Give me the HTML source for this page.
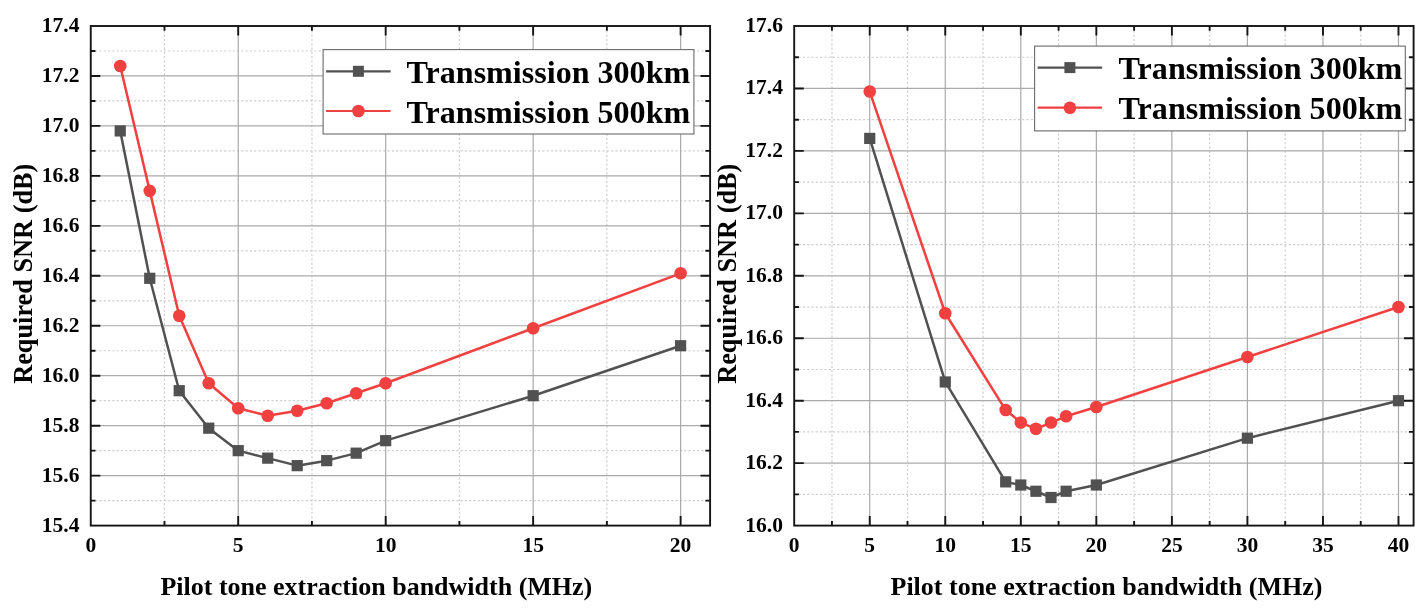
<!DOCTYPE html>
<html><head><meta charset="utf-8"><title>Required SNR vs pilot tone extraction bandwidth</title>
<style>
html,body{margin:0;padding:0;background:#fff}
body{width:1428px;height:612px;overflow:hidden}
svg{display:block}
text{font-family:"Liberation Serif","Times New Roman",serif;font-weight:bold;fill:#000}
.tk{font-size:21.5px}
.ti{font-size:26px}
.ty{font-size:26.3px}
.lg{font-size:32.1px}
</style></head><body>
<svg width="1428" height="612" viewBox="0 0 1428 612">
<rect width="1428" height="612" fill="#fff"/>
<g id="left-chart">
<line x1="164.48" y1="26.0" x2="164.48" y2="525.6" stroke="#cecece" stroke-width="1.2" stroke-dasharray="2.2 2.1"/>
<line x1="311.95" y1="26.0" x2="311.95" y2="525.6" stroke="#cecece" stroke-width="1.2" stroke-dasharray="2.2 2.1"/>
<line x1="459.41" y1="26.0" x2="459.41" y2="525.6" stroke="#cecece" stroke-width="1.2" stroke-dasharray="2.2 2.1"/>
<line x1="606.88" y1="26.0" x2="606.88" y2="525.6" stroke="#cecece" stroke-width="1.2" stroke-dasharray="2.2 2.1"/>
<line x1="90.75" y1="500.62" x2="710.1" y2="500.62" stroke="#cecece" stroke-width="1.2" stroke-dasharray="2.2 2.1"/>
<line x1="90.75" y1="450.66" x2="710.1" y2="450.66" stroke="#cecece" stroke-width="1.2" stroke-dasharray="2.2 2.1"/>
<line x1="90.75" y1="400.70" x2="710.1" y2="400.70" stroke="#cecece" stroke-width="1.2" stroke-dasharray="2.2 2.1"/>
<line x1="90.75" y1="350.74" x2="710.1" y2="350.74" stroke="#cecece" stroke-width="1.2" stroke-dasharray="2.2 2.1"/>
<line x1="90.75" y1="300.78" x2="710.1" y2="300.78" stroke="#cecece" stroke-width="1.2" stroke-dasharray="2.2 2.1"/>
<line x1="90.75" y1="250.82" x2="710.1" y2="250.82" stroke="#cecece" stroke-width="1.2" stroke-dasharray="2.2 2.1"/>
<line x1="90.75" y1="200.86" x2="710.1" y2="200.86" stroke="#cecece" stroke-width="1.2" stroke-dasharray="2.2 2.1"/>
<line x1="90.75" y1="150.90" x2="710.1" y2="150.90" stroke="#cecece" stroke-width="1.2" stroke-dasharray="2.2 2.1"/>
<line x1="90.75" y1="100.94" x2="710.1" y2="100.94" stroke="#cecece" stroke-width="1.2" stroke-dasharray="2.2 2.1"/>
<line x1="90.75" y1="50.98" x2="710.1" y2="50.98" stroke="#cecece" stroke-width="1.2" stroke-dasharray="2.2 2.1"/>
<line x1="238.21" y1="26.0" x2="238.21" y2="525.6" stroke="#aaaaaa" stroke-width="1.2"/>
<line x1="385.68" y1="26.0" x2="385.68" y2="525.6" stroke="#aaaaaa" stroke-width="1.2"/>
<line x1="533.14" y1="26.0" x2="533.14" y2="525.6" stroke="#aaaaaa" stroke-width="1.2"/>
<line x1="680.61" y1="26.0" x2="680.61" y2="525.6" stroke="#aaaaaa" stroke-width="1.2"/>
<line x1="90.75" y1="475.64" x2="710.1" y2="475.64" stroke="#aaaaaa" stroke-width="1.2"/>
<line x1="90.75" y1="425.68" x2="710.1" y2="425.68" stroke="#aaaaaa" stroke-width="1.2"/>
<line x1="90.75" y1="375.72" x2="710.1" y2="375.72" stroke="#aaaaaa" stroke-width="1.2"/>
<line x1="90.75" y1="325.76" x2="710.1" y2="325.76" stroke="#aaaaaa" stroke-width="1.2"/>
<line x1="90.75" y1="275.80" x2="710.1" y2="275.80" stroke="#aaaaaa" stroke-width="1.2"/>
<line x1="90.75" y1="225.84" x2="710.1" y2="225.84" stroke="#aaaaaa" stroke-width="1.2"/>
<line x1="90.75" y1="175.88" x2="710.1" y2="175.88" stroke="#aaaaaa" stroke-width="1.2"/>
<line x1="90.75" y1="125.92" x2="710.1" y2="125.92" stroke="#aaaaaa" stroke-width="1.2"/>
<line x1="90.75" y1="75.96" x2="710.1" y2="75.96" stroke="#aaaaaa" stroke-width="1.2"/>
<path d="M238.21 525.6v-9.6M238.21 26.0v9.6M385.68 525.6v-9.6M385.68 26.0v9.6M533.14 525.6v-9.6M533.14 26.0v9.6M680.61 525.6v-9.6M680.61 26.0v9.6M164.48 525.6v-4.7M164.48 26.0v4.7M311.95 525.6v-4.7M311.95 26.0v4.7M459.41 525.6v-4.7M459.41 26.0v4.7M606.88 525.6v-4.7M606.88 26.0v4.7M90.75 475.64h9.6M710.1 475.64h-9.6M90.75 425.68h9.6M710.1 425.68h-9.6M90.75 375.72h9.6M710.1 375.72h-9.6M90.75 325.76h9.6M710.1 325.76h-9.6M90.75 275.80h9.6M710.1 275.80h-9.6M90.75 225.84h9.6M710.1 225.84h-9.6M90.75 175.88h9.6M710.1 175.88h-9.6M90.75 125.92h9.6M710.1 125.92h-9.6M90.75 75.96h9.6M710.1 75.96h-9.6M90.75 500.62h4.7M710.1 500.62h-4.7M90.75 450.66h4.7M710.1 450.66h-4.7M90.75 400.70h4.7M710.1 400.70h-4.7M90.75 350.74h4.7M710.1 350.74h-4.7M90.75 300.78h4.7M710.1 300.78h-4.7M90.75 250.82h4.7M710.1 250.82h-4.7M90.75 200.86h4.7M710.1 200.86h-4.7M90.75 150.90h4.7M710.1 150.90h-4.7M90.75 100.94h4.7M710.1 100.94h-4.7M90.75 50.98h4.7M710.1 50.98h-4.7" stroke="#151515" stroke-width="1.9" fill="none"/>
<polyline points="120.24,130.92 149.74,278.30 179.23,390.71 208.72,428.18 238.21,450.66 267.71,458.15 297.20,465.65 326.69,460.65 356.19,453.16 385.68,440.67 533.14,395.70 680.61,345.74" fill="none" stroke="#515151" stroke-width="2.5" stroke-linejoin="round"/>
<rect x="114.64" y="125.32" width="11.2" height="11.2" fill="#515151"/>
<rect x="144.14" y="272.70" width="11.2" height="11.2" fill="#515151"/>
<rect x="173.63" y="385.11" width="11.2" height="11.2" fill="#515151"/>
<rect x="203.12" y="422.58" width="11.2" height="11.2" fill="#515151"/>
<rect x="232.61" y="445.06" width="11.2" height="11.2" fill="#515151"/>
<rect x="262.11" y="452.55" width="11.2" height="11.2" fill="#515151"/>
<rect x="291.60" y="460.05" width="11.2" height="11.2" fill="#515151"/>
<rect x="321.09" y="455.05" width="11.2" height="11.2" fill="#515151"/>
<rect x="350.59" y="447.56" width="11.2" height="11.2" fill="#515151"/>
<rect x="380.08" y="435.07" width="11.2" height="11.2" fill="#515151"/>
<rect x="527.54" y="390.10" width="11.2" height="11.2" fill="#515151"/>
<rect x="675.01" y="340.14" width="11.2" height="11.2" fill="#515151"/>
<polyline points="120.24,65.97 149.74,190.87 179.23,315.77 208.72,383.21 238.21,408.19 267.71,415.69 297.20,410.69 326.69,403.20 356.19,393.21 385.68,383.21 533.14,328.26 680.61,273.30" fill="none" stroke="#F14040" stroke-width="2.5" stroke-linejoin="round"/>
<circle cx="120.24" cy="65.97" r="6.3" fill="#F14040"/>
<circle cx="149.74" cy="190.87" r="6.3" fill="#F14040"/>
<circle cx="179.23" cy="315.77" r="6.3" fill="#F14040"/>
<circle cx="208.72" cy="383.21" r="6.3" fill="#F14040"/>
<circle cx="238.21" cy="408.19" r="6.3" fill="#F14040"/>
<circle cx="267.71" cy="415.69" r="6.3" fill="#F14040"/>
<circle cx="297.20" cy="410.69" r="6.3" fill="#F14040"/>
<circle cx="326.69" cy="403.20" r="6.3" fill="#F14040"/>
<circle cx="356.19" cy="393.21" r="6.3" fill="#F14040"/>
<circle cx="385.68" cy="383.21" r="6.3" fill="#F14040"/>
<circle cx="533.14" cy="328.26" r="6.3" fill="#F14040"/>
<circle cx="680.61" cy="273.30" r="6.3" fill="#F14040"/>
<rect x="90.75" y="26.0" width="619.35" height="499.6" fill="none" stroke="#151515" stroke-width="1.9"/>
<rect x="323.1" y="49.6" width="370.79999999999995" height="84.4" fill="#fff" stroke="#6a6a6a" stroke-width="1.1"/>
<line x1="326.1" y1="71.3" x2="390.6" y2="71.3" stroke="#515151" stroke-width="2.2"/>
<rect x="352.90000000000003" y="65.8" width="11" height="11" fill="#515151"/>
<line x1="326.1" y1="111.0" x2="390.6" y2="111.0" stroke="#F14040" stroke-width="2.2"/>
<circle cx="358.40000000000003" cy="111.0" r="6.3" fill="#F14040"/>
<text class="lg" x="406.5" y="83.1">Transmission 300km</text>
<text class="lg" x="406.5" y="122.6">Transmission 500km</text>
<text class="tk" text-anchor="end" x="79.45" y="531.90">15.4</text>
<text class="tk" text-anchor="end" x="79.45" y="481.86">15.6</text>
<text class="tk" text-anchor="end" x="79.45" y="431.82">15.8</text>
<text class="tk" text-anchor="end" x="79.45" y="381.78">16.0</text>
<text class="tk" text-anchor="end" x="79.45" y="331.74">16.2</text>
<text class="tk" text-anchor="end" x="79.45" y="281.70">16.4</text>
<text class="tk" text-anchor="end" x="79.45" y="231.66">16.6</text>
<text class="tk" text-anchor="end" x="79.45" y="181.62">16.8</text>
<text class="tk" text-anchor="end" x="79.45" y="131.58">17.0</text>
<text class="tk" text-anchor="end" x="79.45" y="81.54">17.2</text>
<text class="tk" text-anchor="end" x="79.45" y="31.50">17.4</text>
<text class="tk" text-anchor="middle" x="90.75" y="552.20">0</text>
<text class="tk" text-anchor="middle" x="238.21" y="552.20">5</text>
<text class="tk" text-anchor="middle" x="385.68" y="552.20">10</text>
<text class="tk" text-anchor="middle" x="533.14" y="552.20">15</text>
<text class="tk" text-anchor="middle" x="680.61" y="552.20">20</text>
<text class="ti" text-anchor="middle" x="376.35" y="594.8">Pilot tone extraction bandwidth (MHz)</text>
<text class="ty" text-anchor="middle" transform="translate(32.3 273.75) rotate(-90)">Required SNR (dB)</text>
</g>
<g id="right-chart">
<line x1="831.97" y1="26.0" x2="831.97" y2="525.6" stroke="#cecece" stroke-width="1.2" stroke-dasharray="2.2 2.1"/>
<line x1="907.50" y1="26.0" x2="907.50" y2="525.6" stroke="#cecece" stroke-width="1.2" stroke-dasharray="2.2 2.1"/>
<line x1="983.04" y1="26.0" x2="983.04" y2="525.6" stroke="#cecece" stroke-width="1.2" stroke-dasharray="2.2 2.1"/>
<line x1="1058.58" y1="26.0" x2="1058.58" y2="525.6" stroke="#cecece" stroke-width="1.2" stroke-dasharray="2.2 2.1"/>
<line x1="1134.11" y1="26.0" x2="1134.11" y2="525.6" stroke="#cecece" stroke-width="1.2" stroke-dasharray="2.2 2.1"/>
<line x1="1209.65" y1="26.0" x2="1209.65" y2="525.6" stroke="#cecece" stroke-width="1.2" stroke-dasharray="2.2 2.1"/>
<line x1="1285.19" y1="26.0" x2="1285.19" y2="525.6" stroke="#cecece" stroke-width="1.2" stroke-dasharray="2.2 2.1"/>
<line x1="1360.72" y1="26.0" x2="1360.72" y2="525.6" stroke="#cecece" stroke-width="1.2" stroke-dasharray="2.2 2.1"/>
<line x1="794.2" y1="494.37" x2="1413.6" y2="494.37" stroke="#cecece" stroke-width="1.2" stroke-dasharray="2.2 2.1"/>
<line x1="794.2" y1="431.92" x2="1413.6" y2="431.92" stroke="#cecece" stroke-width="1.2" stroke-dasharray="2.2 2.1"/>
<line x1="794.2" y1="369.48" x2="1413.6" y2="369.48" stroke="#cecece" stroke-width="1.2" stroke-dasharray="2.2 2.1"/>
<line x1="794.2" y1="307.03" x2="1413.6" y2="307.03" stroke="#cecece" stroke-width="1.2" stroke-dasharray="2.2 2.1"/>
<line x1="794.2" y1="244.58" x2="1413.6" y2="244.58" stroke="#cecece" stroke-width="1.2" stroke-dasharray="2.2 2.1"/>
<line x1="794.2" y1="182.12" x2="1413.6" y2="182.12" stroke="#cecece" stroke-width="1.2" stroke-dasharray="2.2 2.1"/>
<line x1="794.2" y1="119.68" x2="1413.6" y2="119.68" stroke="#cecece" stroke-width="1.2" stroke-dasharray="2.2 2.1"/>
<line x1="794.2" y1="57.23" x2="1413.6" y2="57.23" stroke="#cecece" stroke-width="1.2" stroke-dasharray="2.2 2.1"/>
<line x1="869.74" y1="26.0" x2="869.74" y2="525.6" stroke="#aaaaaa" stroke-width="1.2"/>
<line x1="945.27" y1="26.0" x2="945.27" y2="525.6" stroke="#aaaaaa" stroke-width="1.2"/>
<line x1="1020.81" y1="26.0" x2="1020.81" y2="525.6" stroke="#aaaaaa" stroke-width="1.2"/>
<line x1="1096.35" y1="26.0" x2="1096.35" y2="525.6" stroke="#aaaaaa" stroke-width="1.2"/>
<line x1="1171.88" y1="26.0" x2="1171.88" y2="525.6" stroke="#aaaaaa" stroke-width="1.2"/>
<line x1="1247.42" y1="26.0" x2="1247.42" y2="525.6" stroke="#aaaaaa" stroke-width="1.2"/>
<line x1="1322.96" y1="26.0" x2="1322.96" y2="525.6" stroke="#aaaaaa" stroke-width="1.2"/>
<line x1="1398.49" y1="26.0" x2="1398.49" y2="525.6" stroke="#aaaaaa" stroke-width="1.2"/>
<line x1="794.2" y1="463.15" x2="1413.6" y2="463.15" stroke="#aaaaaa" stroke-width="1.2"/>
<line x1="794.2" y1="400.70" x2="1413.6" y2="400.70" stroke="#aaaaaa" stroke-width="1.2"/>
<line x1="794.2" y1="338.25" x2="1413.6" y2="338.25" stroke="#aaaaaa" stroke-width="1.2"/>
<line x1="794.2" y1="275.80" x2="1413.6" y2="275.80" stroke="#aaaaaa" stroke-width="1.2"/>
<line x1="794.2" y1="213.35" x2="1413.6" y2="213.35" stroke="#aaaaaa" stroke-width="1.2"/>
<line x1="794.2" y1="150.90" x2="1413.6" y2="150.90" stroke="#aaaaaa" stroke-width="1.2"/>
<line x1="794.2" y1="88.45" x2="1413.6" y2="88.45" stroke="#aaaaaa" stroke-width="1.2"/>
<path d="M869.74 525.6v-9.6M869.74 26.0v9.6M945.27 525.6v-9.6M945.27 26.0v9.6M1020.81 525.6v-9.6M1020.81 26.0v9.6M1096.35 525.6v-9.6M1096.35 26.0v9.6M1171.88 525.6v-9.6M1171.88 26.0v9.6M1247.42 525.6v-9.6M1247.42 26.0v9.6M1322.96 525.6v-9.6M1322.96 26.0v9.6M1398.49 525.6v-9.6M1398.49 26.0v9.6M831.97 525.6v-4.7M831.97 26.0v4.7M907.50 525.6v-4.7M907.50 26.0v4.7M983.04 525.6v-4.7M983.04 26.0v4.7M1058.58 525.6v-4.7M1058.58 26.0v4.7M1134.11 525.6v-4.7M1134.11 26.0v4.7M1209.65 525.6v-4.7M1209.65 26.0v4.7M1285.19 525.6v-4.7M1285.19 26.0v4.7M1360.72 525.6v-4.7M1360.72 26.0v4.7M794.2 463.15h9.6M1413.6 463.15h-9.6M794.2 400.70h9.6M1413.6 400.70h-9.6M794.2 338.25h9.6M1413.6 338.25h-9.6M794.2 275.80h9.6M1413.6 275.80h-9.6M794.2 213.35h9.6M1413.6 213.35h-9.6M794.2 150.90h9.6M1413.6 150.90h-9.6M794.2 88.45h9.6M1413.6 88.45h-9.6M794.2 494.37h4.7M1413.6 494.37h-4.7M794.2 431.92h4.7M1413.6 431.92h-4.7M794.2 369.48h4.7M1413.6 369.48h-4.7M794.2 307.03h4.7M1413.6 307.03h-4.7M794.2 244.58h4.7M1413.6 244.58h-4.7M794.2 182.12h4.7M1413.6 182.12h-4.7M794.2 119.68h4.7M1413.6 119.68h-4.7M794.2 57.23h4.7M1413.6 57.23h-4.7" stroke="#151515" stroke-width="1.9" fill="none"/>
<polyline points="869.74,138.41 945.27,381.96 1005.70,481.88 1020.81,485.01 1035.92,491.25 1051.02,497.50 1066.13,491.25 1096.35,485.01 1247.42,438.17 1398.49,400.70" fill="none" stroke="#515151" stroke-width="2.5" stroke-linejoin="round"/>
<rect x="864.14" y="132.81" width="11.2" height="11.2" fill="#515151"/>
<rect x="939.67" y="376.36" width="11.2" height="11.2" fill="#515151"/>
<rect x="1000.10" y="476.28" width="11.2" height="11.2" fill="#515151"/>
<rect x="1015.21" y="479.41" width="11.2" height="11.2" fill="#515151"/>
<rect x="1030.32" y="485.65" width="11.2" height="11.2" fill="#515151"/>
<rect x="1045.42" y="491.90" width="11.2" height="11.2" fill="#515151"/>
<rect x="1060.53" y="485.65" width="11.2" height="11.2" fill="#515151"/>
<rect x="1090.75" y="479.41" width="11.2" height="11.2" fill="#515151"/>
<rect x="1241.82" y="432.57" width="11.2" height="11.2" fill="#515151"/>
<rect x="1392.89" y="395.10" width="11.2" height="11.2" fill="#515151"/>
<polyline points="869.74,91.57 945.27,313.27 1005.70,410.07 1020.81,422.56 1035.92,428.80 1051.02,422.56 1066.13,416.31 1096.35,406.95 1247.42,356.99 1398.49,307.03" fill="none" stroke="#F14040" stroke-width="2.5" stroke-linejoin="round"/>
<circle cx="869.74" cy="91.57" r="6.3" fill="#F14040"/>
<circle cx="945.27" cy="313.27" r="6.3" fill="#F14040"/>
<circle cx="1005.70" cy="410.07" r="6.3" fill="#F14040"/>
<circle cx="1020.81" cy="422.56" r="6.3" fill="#F14040"/>
<circle cx="1035.92" cy="428.80" r="6.3" fill="#F14040"/>
<circle cx="1051.02" cy="422.56" r="6.3" fill="#F14040"/>
<circle cx="1066.13" cy="416.31" r="6.3" fill="#F14040"/>
<circle cx="1096.35" cy="406.95" r="6.3" fill="#F14040"/>
<circle cx="1247.42" cy="356.99" r="6.3" fill="#F14040"/>
<circle cx="1398.49" cy="307.03" r="6.3" fill="#F14040"/>
<rect x="794.2" y="26.0" width="619.3999999999999" height="499.6" fill="none" stroke="#151515" stroke-width="1.9"/>
<rect x="1034.6" y="46.1" width="370.70000000000005" height="84.80000000000001" fill="#fff" stroke="#6a6a6a" stroke-width="1.1"/>
<line x1="1037.6" y1="67.6" x2="1102.1" y2="67.6" stroke="#515151" stroke-width="2.2"/>
<rect x="1064.3999999999999" y="62.099999999999994" width="11" height="11" fill="#515151"/>
<line x1="1037.6" y1="107.7" x2="1102.1" y2="107.7" stroke="#F14040" stroke-width="2.2"/>
<circle cx="1069.8999999999999" cy="107.7" r="6.3" fill="#F14040"/>
<text class="lg" x="1118.6" y="79.39999999999999">Transmission 300km</text>
<text class="lg" x="1118.6" y="119.3">Transmission 500km</text>
<text class="tk" text-anchor="end" x="782.90" y="531.90">16.0</text>
<text class="tk" text-anchor="end" x="782.90" y="469.35">16.2</text>
<text class="tk" text-anchor="end" x="782.90" y="406.80">16.4</text>
<text class="tk" text-anchor="end" x="782.90" y="344.25">16.6</text>
<text class="tk" text-anchor="end" x="782.90" y="281.70">16.8</text>
<text class="tk" text-anchor="end" x="782.90" y="219.15">17.0</text>
<text class="tk" text-anchor="end" x="782.90" y="156.60">17.2</text>
<text class="tk" text-anchor="end" x="782.90" y="94.05">17.4</text>
<text class="tk" text-anchor="end" x="782.90" y="31.50">17.6</text>
<text class="tk" text-anchor="middle" x="794.20" y="552.20">0</text>
<text class="tk" text-anchor="middle" x="869.74" y="552.20">5</text>
<text class="tk" text-anchor="middle" x="945.27" y="552.20">10</text>
<text class="tk" text-anchor="middle" x="1020.81" y="552.20">15</text>
<text class="tk" text-anchor="middle" x="1096.35" y="552.20">20</text>
<text class="tk" text-anchor="middle" x="1171.88" y="552.20">25</text>
<text class="tk" text-anchor="middle" x="1247.42" y="552.20">30</text>
<text class="tk" text-anchor="middle" x="1322.96" y="552.20">35</text>
<text class="tk" text-anchor="middle" x="1398.49" y="552.20">40</text>
<text class="ti" text-anchor="middle" x="1106.45" y="594.8">Pilot tone extraction bandwidth (MHz)</text>
<text class="ty" text-anchor="middle" transform="translate(735.8 273.75) rotate(-90)">Required SNR (dB)</text>
</g>
</svg>
</body></html>
